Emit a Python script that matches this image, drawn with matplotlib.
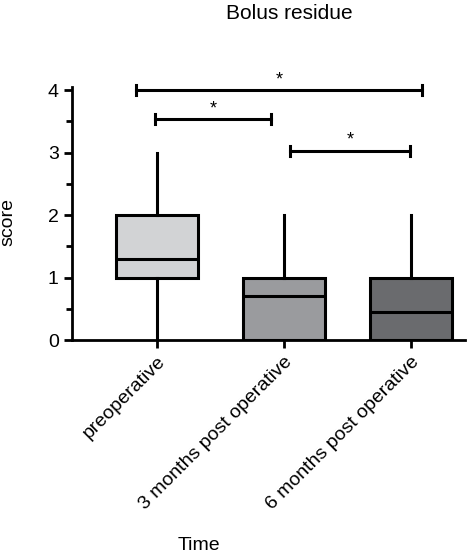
import matplotlib.pyplot as plt
from matplotlib.ticker import MultipleLocator

plt.rcParams['font.family'] = ['Liberation Sans', 'DejaVu Sans']

groups = ['preoperative', '3 months post operative', '6 months post operative']
whislo = [0, 0, 0]
q1 = [1, 0, 0]
med = [1.3, 0.7, 0.45]
q3 = [2, 1, 1]
whishi = [3, 2, 2]
colors = ['#d2d3d5', '#9a9b9e', '#6a6b6e']

# significance brackets: (x start, x end, height)
brackets = [(0.83, 3.09, 4.0), (0.98, 1.9, 3.53), (2.05, 2.99, 3.03)]

fig = plt.figure(figsize=(4.74, 5.54), dpi=100)
ax = fig.add_axes([0.152, 0.386, 0.83, 0.457])

stats = [dict(label=g, whislo=a, q1=b, med=c, q3=d, whishi=e)
         for g, a, b, c, d, e in zip(groups, whislo, q1, med, q3, whishi)]
bp = ax.bxp(stats, positions=[1, 2, 3], widths=0.65, showfliers=False,
            patch_artist=True,
            boxprops=dict(linewidth=2.2, edgecolor='black'),
            medianprops=dict(color='black', linewidth=2.2),
            whiskerprops=dict(linewidth=2.2),
            capprops=dict(linewidth=2.2), capwidths=0.0)
for p, c in zip(bp['boxes'], colors):
    p.set_facecolor(c)

for x0, x1, y in brackets:
    ax.plot([x0, x1], [y, y], color='black', lw=2.2, clip_on=False)
    ax.plot([x0, x0], [y - 0.08, y + 0.08], color='black', lw=2.2, clip_on=False)
    ax.plot([x1, x1], [y - 0.08, y + 0.08], color='black', lw=2.2, clip_on=False)
    ax.text((x0 + x1) / 2, y + 0.03, '*', ha='center', va='bottom', fontsize=13)

ax.set_xlim(0.33, 3.43)
ax.set_ylim(0, 4.05)
ax.yaxis.set_major_locator(MultipleLocator(1))
ax.yaxis.set_minor_locator(MultipleLocator(0.5))
ax.tick_params(axis='both', width=2, length=6, labelsize=14)
ax.tick_params(axis='y', which='minor', width=2, length=4)
ax.set_xticks([1, 2, 3])
ax.set_xticklabels(groups, rotation=45, ha='right', rotation_mode='anchor')
for s in ['top', 'right']:
    ax.spines[s].set_visible(False)
for s in ['left', 'bottom']:
    ax.spines[s].set_linewidth(2)

fig.text(0.61, 0.975, 'Bolus residue', ha='center', va='center', fontsize=15)
fig.text(0.017, 0.6, 'score', rotation=90, ha='center', va='center', fontsize=14)
fig.text(0.42, 0.015, 'Time', ha='center', va='center', fontsize=14)

fig.savefig('out.png')
